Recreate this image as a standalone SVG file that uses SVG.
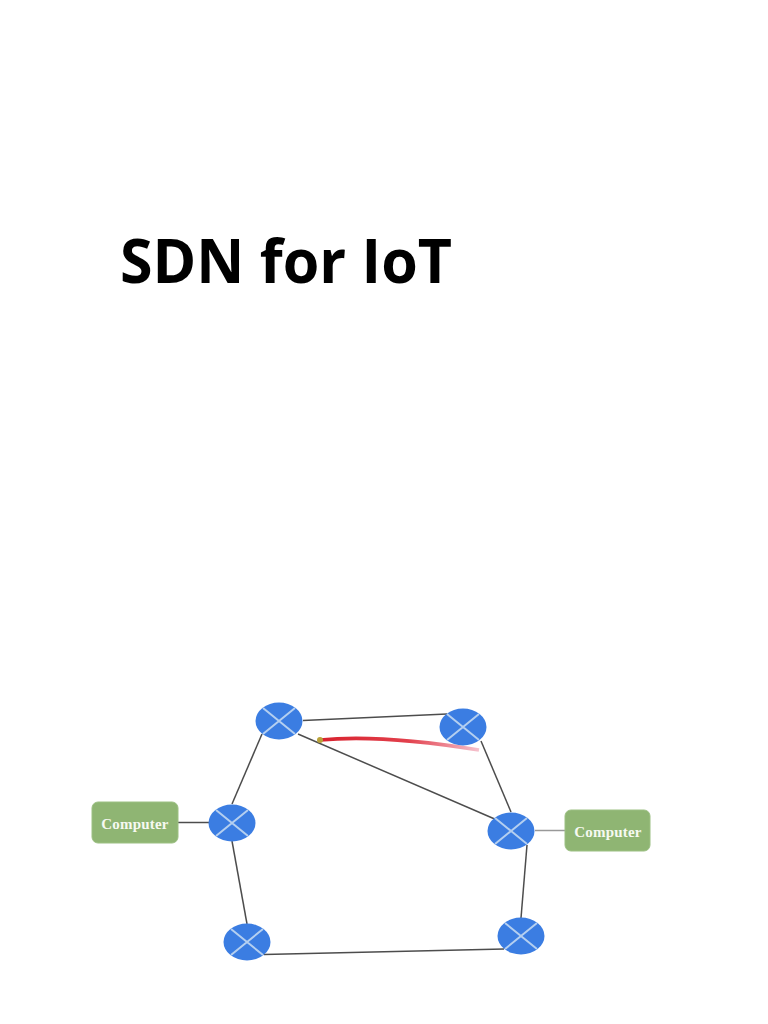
<svg xmlns="http://www.w3.org/2000/svg" width="768" height="1024" viewBox="0 0 768 1024">
<defs>
<linearGradient id="red" gradientUnits="userSpaceOnUse" x1="320" y1="740" x2="480" y2="750">
<stop offset="0" stop-color="#d8222e"/><stop offset="0.55" stop-color="#e2404c"/><stop offset="1" stop-color="#f6c4d0"/>
</linearGradient>
<g id="sw"><ellipse rx="23.5" ry="18.500" fill="#3b7de2"/><path d="M-16,-13 L16,13 M16,-13 L-16,13" stroke="#b4cff0" stroke-width="2" fill="none"/></g>
</defs>
<style>
.l{stroke:#4d4d4d;stroke-width:1.5;fill:none}
.c{fill:#8fb573;stroke:#9cc083;stroke-width:1}
.ct{font:bold 15px "Liberation Serif",serif;fill:#f6f9f1;text-anchor:middle;letter-spacing:.2px}
</style>
<rect width="768" height="1024" fill="#fff"/>
<text x="120" y="283" font-family="Open Sans, Noto Sans, sans-serif" font-weight="700" font-size="60" fill="#000" textLength="332" lengthAdjust="spacingAndGlyphs">SDN for IoT</text>
<g id="connectors">
<path class="l" d="M303,720.500 L447,714"/>
<path class="l" d="M262,734 L232,804"/>
<path class="l" d="M298,734 L497,820"/>
<path class="l" d="M481,741 L511,812"/>
<path class="l" d="M178,822.500 L209,822.500"/>
<path class="l" d="M232,841 L247,924"/>
<path class="l" d="M527,845 L521,918"/>
<path class="l" d="M535,830.500 L565,830.500" style="stroke:#999"/>
<path class="l" d="M264,954.500 L504,949"/>
<path d="M320,740 C370,735 430,742 479,750" fill="none" stroke="url(#red)" stroke-width="3.600"/>
<circle cx="320" cy="740" r="3" fill="#b9a23a"/>
</g>
<g id="node-sw1"><use href="#sw" x="279" y="721"/></g>
<g id="node-sw2"><use href="#sw" x="463" y="727"/></g>
<g id="node-sw3"><use href="#sw" x="232" y="823"/></g>
<g id="node-sw4"><use href="#sw" x="511" y="831"/></g>
<g id="node-sw5"><use href="#sw" x="247" y="942"/></g>
<g id="node-sw6"><use href="#sw" x="521" y="936"/></g>
<g id="node-computer-left"><rect class="c" x="92" y="802" width="86" height="41" rx="6"/><text class="ct" x="135" y="829">Computer</text></g>
<g id="node-computer-right"><rect class="c" x="565" y="810" width="85" height="41" rx="6"/><text class="ct" x="608" y="837">Computer</text></g>
</svg>
